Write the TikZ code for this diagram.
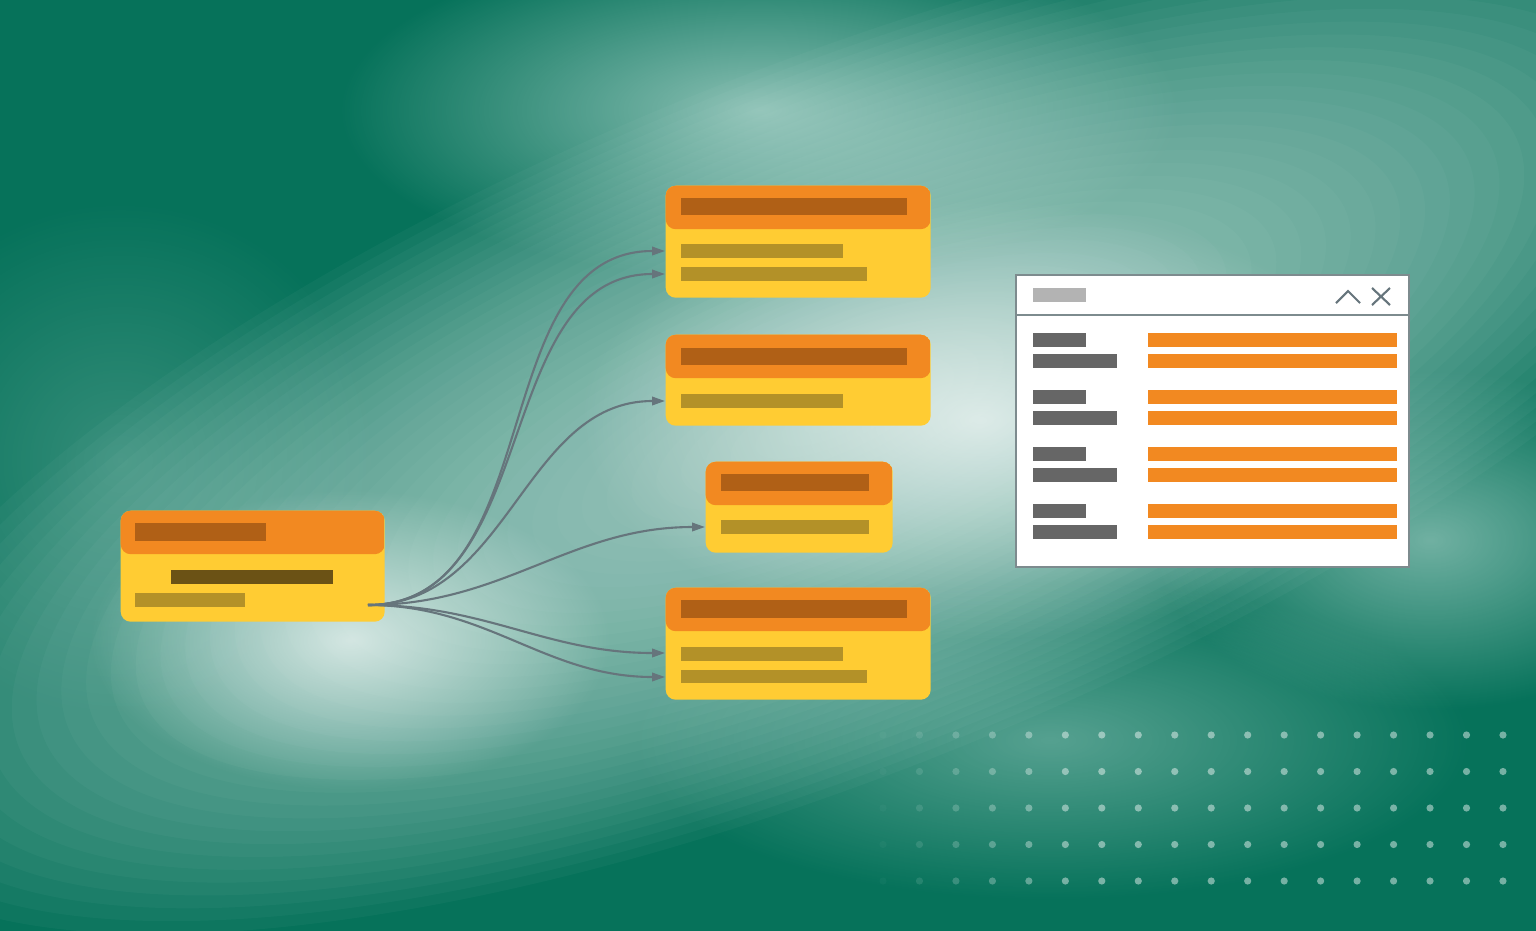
\documentclass[tikz,border=0pt]{standalone}
\usepackage{tikz}
\usepackage{xcolor}
\usetikzlibrary{arrows.meta,fadings}

\definecolor{tealdark}{RGB}{6,114,90}
\definecolor{bandteal}{RGB}{196,226,219}
\definecolor{cardorg}{RGB}{242,137,33}
\definecolor{cardyel}{RGB}{255,204,51}
\definecolor{hdrbar}{RGB}{176,96,22}
\definecolor{olivebar}{RGB}{179,145,40}
\definecolor{darkbar}{RGB}{107,82,21}
\definecolor{wiregray}{RGB}{102,117,124}
\definecolor{winedge}{RGB}{125,139,142}
\definecolor{rowgray}{RGB}{102,102,102}
\definecolor{capgray}{RGB}{179,179,179}

\tikzfading[name=glow, inner color=transparent!30, outer color=transparent!100]

\begin{document}
\begin{tikzpicture}[x=0.1mm, y=-0.1mm,
    card/.style={shape=rectangle, rounded corners=1mm, fill=cardyel, inner sep=0pt, anchor=north west,
      path picture={\fill[cardorg] (path picture bounding box.north west) rectangle ([yshift=-4.35mm]path picture bounding box.north east);}},
    wire/.style={draw=wiregray, line width=0.6pt, -{Triangle[length=1.3mm,width=0.85mm]}},
    winicon/.style={draw=wiregray, line width=0.6pt}]
    \useasboundingbox (0,0) rectangle (1536,931);
    \clip (0,0) rectangle (1536,931);

    % background
    \fill[tealdark] (0,0) rectangle (1536,931);
    \foreach \k in {1,...,40}
      \fill[bandteal, opacity=0.042, rotate around={22:(830,420)}] (830,420) ellipse [x radius={\k*2.65mm}, y radius={\k*0.88mm}];
    \fill[white, path fading=glow] (980,420) ellipse [x radius=40mm, y radius=22mm];
    \fill[white, path fading=glow] (350,640) ellipse [x radius=26mm, y radius=15mm];
    \fill[bandteal, path fading=glow] (760,110) ellipse [x radius=42mm, y radius=17mm];
    \fill[bandteal, path fading=glow, opacity=0.8] (1430,540) ellipse [x radius=28mm, y radius=17mm];
    \fill[bandteal, path fading=glow, opacity=0.6] (1050,740) ellipse [x radius=42mm, y radius=16mm];
    \fill[bandteal, path fading=glow, opacity=0.35] (120,460) ellipse [x radius=26mm, y radius=26mm];

    % dot grid
    \foreach \i in {0,...,17}
      \foreach \j in {0,...,4} {
        \pgfmathsetmacro\op{min(0.45,0.03+0.08*\i)}
        \fill[white, opacity=\op] (883+36.47*\i, 735+36.5*\j) circle (0.36mm);
      }

    % cards
    \node[card, minimum width=26.4mm, minimum height=11.1mm] (src) at (120,510) {};
    \node[card, minimum width=26.5mm, minimum height=11.2mm] (t1) at (665,185) {};
    \node[card, minimum width=26.5mm, minimum height=9.1mm] (t2) at (665,334) {};
    \node[card, minimum width=18.7mm, minimum height=9.1mm] (t3) at (705,461) {};
    \node[card, minimum width=26.5mm, minimum height=11.2mm] (t4) at (665,587) {};

    \fill[hdrbar] (135,523) rectangle (266,541);
    \fill[darkbar] (171,570) rectangle (333,584);
    \fill[olivebar] (135,593) rectangle (245,607);

    \fill[hdrbar] (681,198) rectangle (907,215);
    \fill[olivebar] (681,244) rectangle (843,258);
    \fill[olivebar] (681,267) rectangle (867,281);

    \fill[hdrbar] (681,348) rectangle (907,365);
    \fill[olivebar] (681,394) rectangle (843,408);

    \fill[hdrbar] (721,474) rectangle (869,491);
    \fill[olivebar] (721,520) rectangle (869,534);

    \fill[hdrbar] (681,600) rectangle (907,618);
    \fill[olivebar] (681,647) rectangle (843,661);
    \fill[olivebar] (681,670) rectangle (867,683);

    % ports
    \coordinate (src-out) at (368,605);
    \coordinate (t1-a) at (665,251);
    \coordinate (t1-b) at (665,274);
    \coordinate (t2-a) at (665,401);
    \coordinate (t3-a) at (705,527);
    \coordinate (t4-a) at (665,653);
    \coordinate (t4-b) at (665,677);

    \draw[wire] (src-out) to[out=0, in=180] (t1-a);
    \draw[wire] (src-out) to[out=0, in=180] (t1-b);
    \draw[wire] (src-out) to[out=0, in=180] (t2-a);
    \draw[wire] (src-out) to[out=0, in=180] (t3-a);
    \draw[wire] (src-out) to[out=0, in=180] (t4-a);
    \draw[wire] (src-out) to[out=0, in=180] (t4-b);

    % window
    \node[shape=rectangle, fill=white, draw=winedge, line width=0.6pt, anchor=north west, inner sep=0pt,
      minimum width=39.3mm, minimum height=29.2mm] (win) at (1015,274) {};
    \draw[draw=winedge, line width=0.6pt] (1015,315) -- (1408,315);
    \fill[capgray] (1033,288) rectangle (1086,302);
    \draw[winicon] (1336,303) -- (1348,291) -- (1360,303);
    \draw[winicon] (1372,288) -- (1390,305) (1390,288) -- (1372,305);
    \foreach \y in {333,390,447,504} {
      \fill[rowgray] (1033,\y) rectangle (1086,\y+14);
      \fill[rowgray] (1033,\y+21) rectangle (1117,\y+35);
      \fill[cardorg] (1148,\y) rectangle (1397,\y+14);
      \fill[cardorg] (1148,\y+21) rectangle (1397,\y+35);
    }
\end{tikzpicture}
\end{document}
